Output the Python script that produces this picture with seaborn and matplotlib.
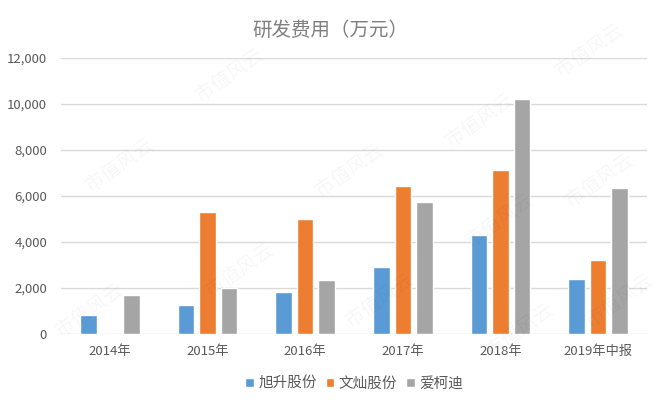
import numpy as np
import pandas as pd
import matplotlib.pyplot as plt
import seaborn as sns

# Data (万元)
years = ['2014年', '2015年', '2016年', '2017年', '2018年', '2019年中报']
xusheng = [810, 1260, 1835, 2905, 4320, 2380]
wencan = [np.nan, 5290, 4980, 6440, 7120, 3200]
aikedi = [1700, 2000, 2357, 5760, 10230, 6335]
companies = ['旭升股份', '文灿股份', '爱柯迪']
colors = ['#5B9BD5', '#ED7D31', '#A5A5A5']

df = pd.DataFrame({'year': years * 3,
                   'company': np.repeat(companies, len(years)),
                   'value': xusheng + wencan + aikedi})

sns.set_style('white')
plt.rcParams['font.family'] = ['Noto Sans CJK SC', 'DejaVu Sans']

fig = plt.figure(figsize=(6.6, 4.11), dpi=100)
ax = fig.add_axes([61 / 660, 1 - 334 / 411, 586 / 660, 276 / 411])

# faint watermark
for (wx, wy) in [(230, 75), (590, 50), (480, 120), (120, 165), (350, 170), (600, 180),
                 (240, 270), (500, 220), (90, 310), (380, 300), (620, 300), (520, 330)]:
    fig.text(wx / 660, 1 - wy / 411, '市值风云', fontsize=14, color='#000000', alpha=0.035,
             rotation=35, ha='center', va='center', zorder=0)

sns.barplot(data=df, x='year', y='value', hue='company', palette=colors,
            saturation=1, width=0.66, gap=0.23, ax=ax, zorder=3)

ax.set_ylim(0, 12000)
ax.set_xlim(-0.5, len(years) - 0.5)
ax.set_yticks(range(0, 12001, 2000))
ax.set_yticklabels([f'{v:,}' for v in range(0, 12001, 2000)])
ax.yaxis.grid(True, color='#d9d9d9', linewidth=1)
ax.set_axisbelow(True)
for s in ax.spines.values():
    s.set_visible(False)
ax.tick_params(axis='both', length=0, labelsize=9.5, labelcolor='#595959')
ax.tick_params(axis='y', pad=10)
ax.tick_params(axis='x', pad=8)
ax.set_xlabel('')
ax.set_ylabel('')

fig.text(0.5, 1 - 30 / 411, '研发费用（万元）', fontsize=14, color='#7f7f7f',
         ha='center', va='center')

ax.legend(loc='center', bbox_to_anchor=(0.5, -0.18), ncol=3, frameon=False,
          fontsize=10.5, handlelength=0.6, handleheight=0.6, handletextpad=0.3,
          columnspacing=0.6, labelcolor='#595959')

fig.savefig('out.png', dpi=100)
